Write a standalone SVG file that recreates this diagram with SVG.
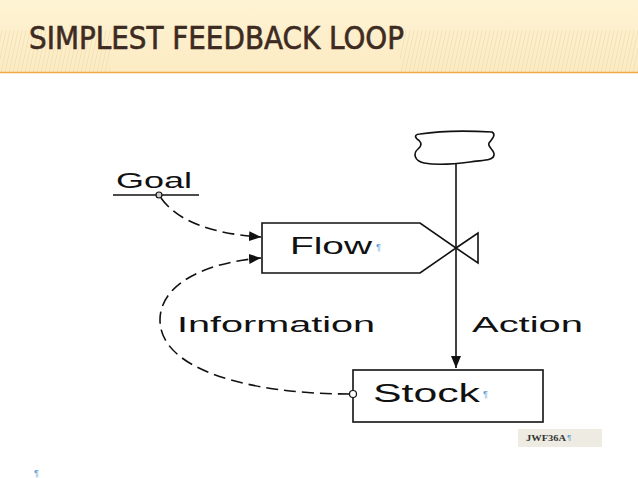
<svg xmlns="http://www.w3.org/2000/svg" width="638" height="478" viewBox="0 0 638 478">
<defs>
<linearGradient id="hdr" x1="0" y1="0" x2="0" y2="1">
<stop offset="0" stop-color="#fef3d4"/>
<stop offset="1" stop-color="#fcebc3"/>
</linearGradient>
<pattern id="stripes" width="4" height="8" patternUnits="userSpaceOnUse" patternTransform="skewX(-12)">
<rect x="0" y="0" width="1" height="8" fill="#e8d3a0"/>
</pattern>
<marker id="arr" viewBox="0 0 12 10" refX="12" refY="5" markerWidth="12" markerHeight="10" markerUnits="userSpaceOnUse" orient="auto">
<path d="M0,0 L12,5 L0,10 Z" fill="#111"/>
</marker>
<style>
.lbl{font-family:"Liberation Sans",Arial,sans-serif;fill:#111}
.line{fill:none;stroke:#111;stroke-width:1.6}
.dash{fill:none;stroke:#111;stroke-width:1.6;stroke-dasharray:12 6}
.box{fill:#fff;stroke:#111;stroke-width:1.6}
.pil{font-family:"Liberation Sans",Arial,sans-serif;fill:#5b9bd5}
</style>
</defs>
<rect width="638" height="478" fill="#fff"/>
<g id="header">
<rect x="0" y="0" width="638" height="72" fill="url(#hdr)"/>
<rect x="0" y="30" width="110" height="42" fill="url(#stripes)" opacity="0.45"/>
<rect x="400" y="30" width="238" height="42" fill="url(#stripes)" opacity="0.45"/>
<line x1="0" y1="72.5" x2="638" y2="72.5" stroke="#f1a846" stroke-width="1.5"/>
<text x="29" y="49" font-family="'DejaVu Sans Condensed','DejaVu Sans',sans-serif" font-stretch="condensed" font-size="32" fill="#3d2b22" stroke="#3d2b22" stroke-width="0.6" textLength="375" lengthAdjust="spacingAndGlyphs">SIMPLEST FEEDBACK LOOP</text>
</g>
<g id="connectors">
<path class="dash" d="M161,198 Q185,232 261,237" marker-end="url(#arr)"/>
<path class="dash" d="M350,394 C250,394 160,370 160,320 C160,282 210,262 261,258" marker-end="url(#arr)"/>
<line class="line" x1="456" y1="163" x2="456" y2="368" marker-end="url(#arr)"/>
</g>
<g id="goal">
<text class="lbl" x="116" y="188" font-size="22" textLength="76" lengthAdjust="spacingAndGlyphs">Goal</text>
<line class="line" x1="113" y1="195" x2="199" y2="195"/>
<circle cx="159" cy="195" r="3" fill="#ccc" stroke="#111" stroke-width="1.2"/>
</g>
<g id="cloud">
<path class="line" fill="#fff" d="M420,134 C445,130 475,131 492,132 C497,135 491,140 489,143 C487,147 495,150 494,155 C493,161 483,160 470,162 C455,164 435,165 424,163 C414,161 413,153 418,149 C423,145 421,141 417,139 C414,136 416,134 420,134 Z"/>
</g>
<g id="flow">
<path class="box" d="M262,223 L420,223 L456,248 L420,273 L262,273 Z"/>
<path class="line" d="M456,248 L478,233 L478,263 Z"/>
<text class="lbl" x="290" y="254" font-size="24" textLength="82" lengthAdjust="spacingAndGlyphs">Flow</text>
<text class="pil" x="376" y="250" font-size="9">¶</text>
</g>
<g id="stock">
<rect class="box" x="353" y="370" width="190" height="52"/>
<text class="lbl" x="373" y="402" font-size="26" textLength="107" lengthAdjust="spacingAndGlyphs">Stock</text>
<text class="pil" x="483" y="397" font-size="9">¶</text>
<circle cx="353" cy="394" r="3.5" fill="#fff" stroke="#111" stroke-width="1.2"/>
</g>
<g id="labels">
<text class="lbl" x="177" y="332" font-size="22" textLength="198" lengthAdjust="spacingAndGlyphs">Information</text>
<text class="lbl" x="472" y="332" font-size="22" textLength="111" lengthAdjust="spacingAndGlyphs">Action</text>
</g>
<g id="tag">
<rect x="518" y="429" width="84" height="18" fill="#eeebe2"/>
<text x="526" y="441" font-family="'Liberation Serif','Times New Roman',serif" font-weight="bold" font-size="9" fill="#333" textLength="40" lengthAdjust="spacingAndGlyphs">JWF36A</text>
<text class="pil" x="567" y="440" font-size="8">¶</text>
</g>
<text class="pil" x="34" y="476" font-size="9">¶</text>
</svg>
